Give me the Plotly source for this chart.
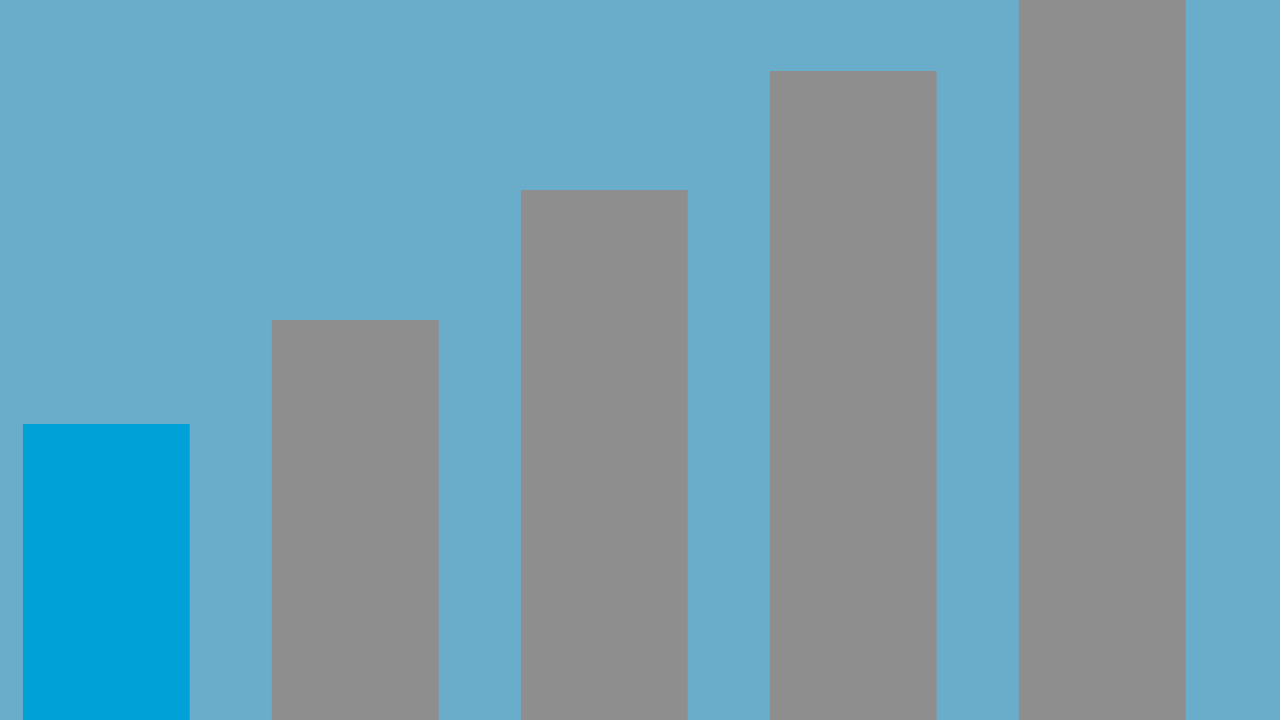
import plotly.graph_objects as go

categories = ["A", "B", "C", "D", "E"]
values = [296, 400, 530, 649, 740]
colors = ["#00a1d7", "#8e8e8e", "#8e8e8e", "#8e8e8e", "#8e8e8e"]

fig = go.Figure(go.Bar(
    x=categories, y=values,
    marker=dict(color=colors, line=dict(width=0)),
    width=0.67,
))
fig.update_layout(
    width=1280, height=720,
    margin=dict(l=0, r=0, t=0, b=0),
    paper_bgcolor="#6aadcb", plot_bgcolor="#6aadcb",
    showlegend=False,
    xaxis=dict(visible=False, range=[-0.427, 4.714]),
    yaxis=dict(visible=False, range=[0, 720]),
)
fig.write_html(
    "out.html",
    config={"displayModeBar": False},
    post_script="document.body.style.margin='0';document.body.style.overflow='hidden';document.body.style.background='#6aadcb';",
)
